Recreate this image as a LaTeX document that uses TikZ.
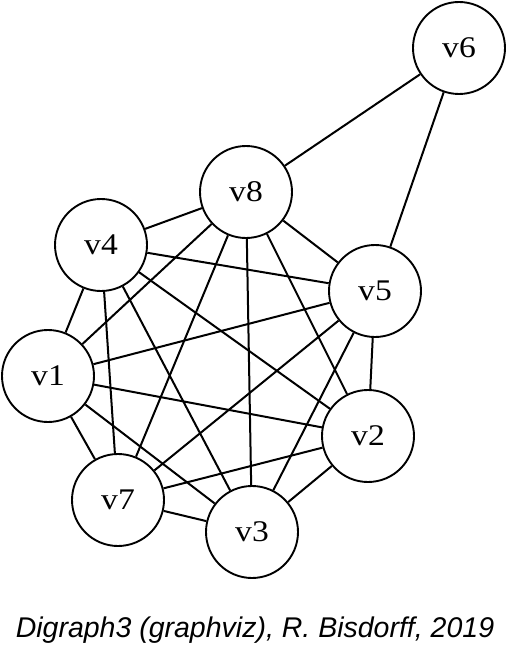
\documentclass[tikz,border=0pt]{standalone}
\usepackage{fontspec}
\setmainfont{Liberation Serif}
\newfontfamily\capfont{Liberation Sans}
\newcommand{\vlab}[1]{\scalebox{1.12}[1]{#1}}
\begin{document}
\begin{tikzpicture}[x=1pt,y=-1pt,
  vtx/.style={circle,draw,line width=1.9pt,minimum size=92pt,inner sep=0pt,font=\fontsize{30}{30}\selectfont},
  edge/.style={line width=2pt}]
\useasboundingbox (0,0) rectangle (509,650);
\node[vtx] (v6) at (459,48) {\vlab{v6}};
\node[vtx] (v8) at (246,192) {\vlab{v8}};
\node[vtx] (v4) at (101,245) {\vlab{v4}};
\node[vtx] (v5) at (375,291) {\vlab{v5}};
\node[vtx] (v1) at (48,376) {\vlab{v1}};
\node[vtx] (v2) at (368,436) {\vlab{v2}};
\node[vtx] (v7) at (118,500) {\vlab{v7}};
\node[vtx] (v3) at (252,532) {\vlab{v3}};
\foreach \a/\b in {v6/v8,v6/v5,
  v8/v4,v8/v5,v8/v1,v8/v7,v8/v3,v8/v2,
  v4/v5,v4/v1,v4/v7,v4/v3,v4/v2,
  v5/v1,v5/v7,v5/v3,v5/v2,
  v1/v2,v1/v7,v1/v3,
  v2/v7,v2/v3,v7/v3}
  \draw[edge] (\a) -- (\b);
\node[font=\capfont\itshape\fontsize{28.5}{28.5}\selectfont,anchor=base] (cap) at (255,637) {Digraph3 (graphviz), R. Bisdorff, 2019};
\end{tikzpicture}
\end{document}
